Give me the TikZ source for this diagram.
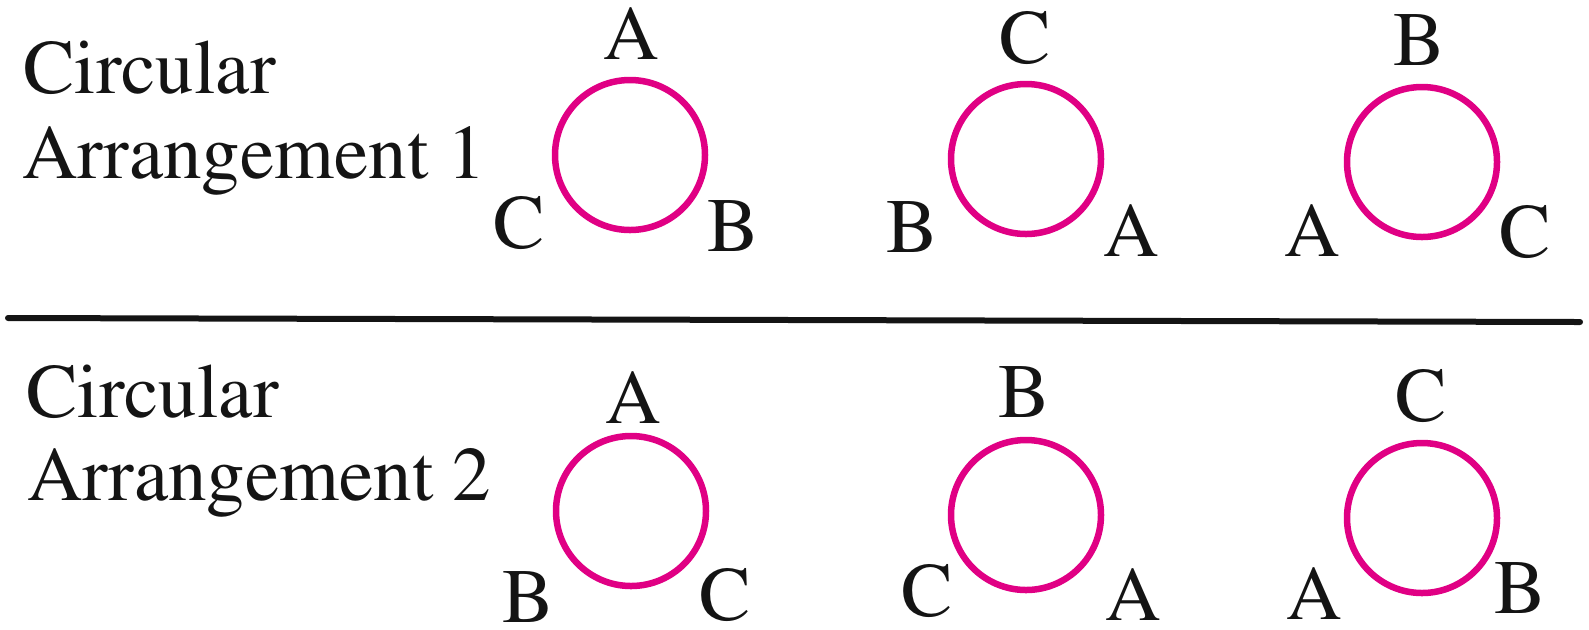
\documentclass[tikz,border=0pt]{standalone}
\usepackage[T1]{fontenc}
\usepackage{mathptmx}
\definecolor{ringpink}{RGB}{224,0,132}
\definecolor{ink}{RGB}{20,20,20}
\tikzset{
  ring/.style={draw=ringpink, line width=3.25pt},
  lab/.style={anchor=base, inner sep=0pt, text=ink, font=\fontsize{38.5}{42}\selectfont},
  head/.style={anchor=base west, inner sep=0pt, text=ink, font=\fontsize{38.5}{42}\selectfont}
}
\begin{document}
\begin{tikzpicture}[x=0.5pt,y=-0.5pt]
\useasboundingbox (0,0) rectangle (1589,629);
% headings
\node[head] (h1a) at (23,93) {Circular};
\node[head] (h1b) at (22,178) {Arrangement 1};
\node[head] (h2a) at (26,417) {Circular};
\node[head] (h2b) at (27,500) {Arrangement 2};
% separator
\coordinate (sepL) at (8,318);
\coordinate (sepR) at (1580,322);
\draw[ink, line width=3pt, line cap=round] (sepL) -- (sepR);
% arrangement 1
\draw[ring] (630,155) circle (37.5pt);
\node[lab] (r1t) at (631,59) {A};
\node[lab] (r1l) at (519,248) {C};
\node[lab] (r1r) at (733,251) {B};
\draw[ring] (1026,159) circle (37.5pt);
\node[lab] (r2t) at (1025,63) {C};
\node[lab] (r2l) at (912,252) {B};
\node[lab] (r2r) at (1131,256) {A};
\draw[ring] (1422,162) circle (37.5pt);
\node[lab] (r3t) at (1419,65) {B};
\node[lab] (r3l) at (1312,256) {A};
\node[lab] (r3r) at (1525,257) {C};
% arrangement 2
\draw[ring] (631,511) circle (37.5pt);
\node[lab] (s1t) at (633,423) {A};
\node[lab] (s1l) at (528,622) {B};
\node[lab] (s1r) at (725,620) {C};
\draw[ring] (1026,515) circle (37.5pt);
\node[lab] (s2t) at (1024,417) {B};
\node[lab] (s2l) at (927,616) {C};
\node[lab] (s2r) at (1133,620) {A};
\draw[ring] (1422,518) circle (37.5pt);
\node[lab] (s3t) at (1421,421) {C};
\node[lab] (s3l) at (1314,619) {A};
\node[lab] (s3r) at (1520,613) {B};
\end{tikzpicture}
\end{document}
